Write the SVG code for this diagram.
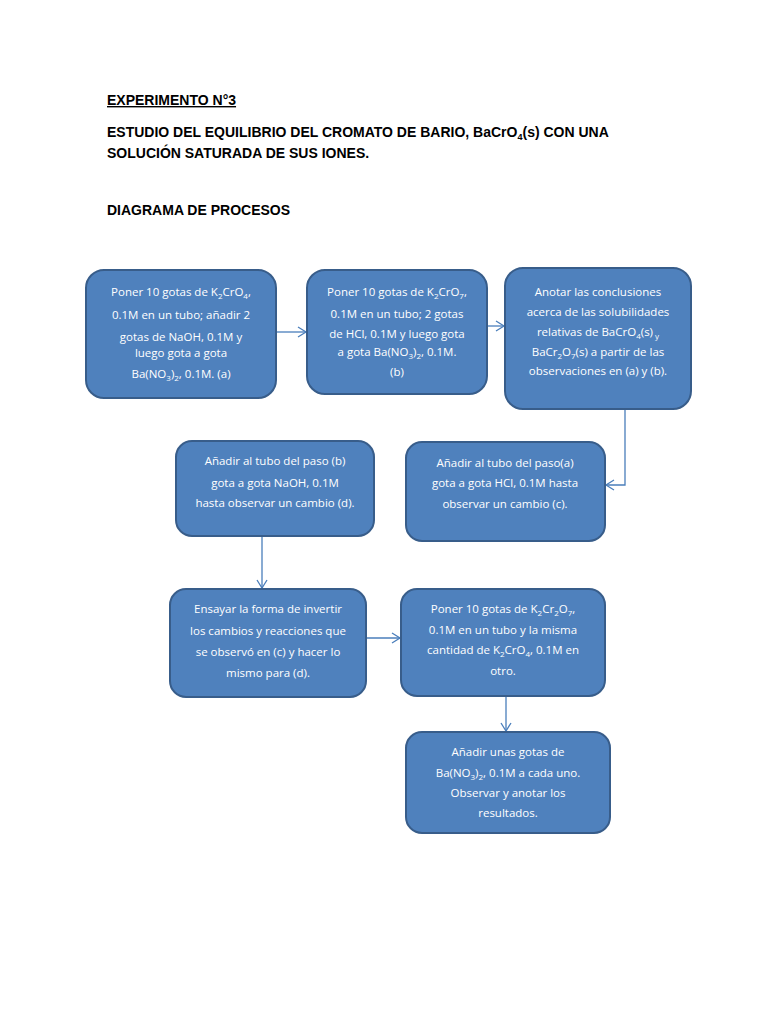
<svg xmlns="http://www.w3.org/2000/svg" width="768" height="1024" viewBox="0 0 768 1024">
<style>
.h{font-family:"Liberation Sans",Arial,sans-serif;font-weight:bold;font-size:14px;fill:#000}
.b{fill:#4f81bd;stroke:#385d8a;stroke-width:2}
.t{font-family:"Open Sans","Noto Sans",sans-serif;font-size:11.5px;fill:#fff;text-anchor:middle}
.c{fill:none;stroke:#4a7ebb;stroke-width:1.3}
</style>
<defs><marker id="a" markerWidth="12" markerHeight="12" refX="10" refY="6" orient="auto" markerUnits="userSpaceOnUse"><path d="M2,1 L10,6 L2,11" fill="none" stroke="#4a7ebb" stroke-width="1.3"/></marker></defs>
<rect width="768" height="1024" fill="#fff"/>
<text class="h" x="107" y="105" text-decoration="underline">EXPERIMENTO N°3</text>
<text class="h" x="107" y="137">ESTUDIO DEL EQUILIBRIO DEL CROMATO DE BARIO, BaCrO<tspan font-size="9" dy="3">4</tspan><tspan dy="-3">(s) CON UNA</tspan></text>
<text class="h" x="107" y="158">SOLUCIÓN SATURADA DE SUS IONES.</text>
<text class="h" x="107" y="215">DIAGRAMA DE PROCESOS</text>
<g id="connectors">
<line class="c" x1="276" y1="332" x2="306" y2="332" marker-end="url(#a)"/>
<line class="c" x1="487" y1="326" x2="504" y2="326" marker-end="url(#a)"/>
<polyline class="c" points="625,409 625,485 606,485" marker-end="url(#a)"/>
<line class="c" x1="262" y1="536" x2="262" y2="588" marker-end="url(#a)"/>
<line class="c" x1="366" y1="638" x2="400" y2="638" marker-end="url(#a)"/>
<line class="c" x1="506" y1="696" x2="506" y2="731" marker-end="url(#a)"/>
</g>
<g id="n1"><rect class="b" x="86" y="270" width="190" height="128" rx="18"/>
<text class="t" x="181" y="296">Poner 10 gotas de K<tspan font-size="8" dy="3">2</tspan><tspan dy="-3">CrO</tspan><tspan font-size="8" dy="3">4</tspan><tspan dy="-3">,</tspan></text>
<text class="t" x="181" y="319">0.1M en un tubo; añadir 2</text>
<text class="t" x="181" y="341">gotas de NaOH, 0.1M y</text>
<text class="t" x="181" y="357">luego gota a  gota</text>
<text class="t" x="181" y="378">Ba(NO<tspan font-size="8" dy="3">3</tspan><tspan dy="-3">)</tspan><tspan font-size="8" dy="3">2</tspan><tspan dy="-3">, 0.1M.  (a)</tspan></text></g>
<g id="n2"><rect class="b" x="307" y="270" width="180" height="124" rx="18"/>
<text class="t" x="397" y="296">Poner 10 gotas de K<tspan font-size="8" dy="3">2</tspan><tspan dy="-3">CrO</tspan><tspan font-size="8" dy="3">7</tspan><tspan dy="-3">,</tspan></text>
<text class="t" x="397" y="318">0.1M en un tubo; 2 gotas</text>
<text class="t" x="397" y="338">de HCl, 0.1M y luego gota</text>
<text class="t" x="397" y="356">a  gota Ba(NO<tspan font-size="8" dy="3">3</tspan><tspan dy="-3">)</tspan><tspan font-size="8" dy="3">2</tspan><tspan dy="-3">, 0.1M.</tspan></text>
<text class="t" x="397" y="376">(b)</text></g>
<g id="n3"><rect class="b" x="505" y="268" width="186" height="141" rx="18"/>
<text class="t" x="598" y="296">Anotar las conclusiones</text>
<text class="t" x="598" y="316">acerca de las solubilidades</text>
<text class="t" x="598" y="336">relativas de BaCrO<tspan font-size="8" dy="3">4</tspan><tspan dy="-3">(s)</tspan><tspan font-size="8" dy="3"> y</tspan></text>
<text class="t" x="598" y="356">BaCr<tspan font-size="8" dy="3">2</tspan><tspan dy="-3">O</tspan><tspan font-size="8" dy="3">7</tspan><tspan dy="-3">(s) a partir de las</tspan></text>
<text class="t" x="598" y="375">observaciones en (a) y (b).</text></g>
<g id="n4"><rect class="b" x="176" y="441" width="198" height="95" rx="16"/>
<text class="t" x="275" y="465">Añadir al tubo del paso (b)</text>
<text class="t" x="275" y="487">gota a gota NaOH, 0.1M</text>
<text class="t" x="275" y="507">hasta observar un cambio (d).</text></g>
<g id="n5"><rect class="b" x="406" y="442" width="199" height="99" rx="16"/>
<text class="t" x="505" y="467">Añadir al tubo del paso(a)</text>
<text class="t" x="505" y="487">gota a gota HCl, 0.1M hasta</text>
<text class="t" x="505" y="508">observar un cambio (c).</text></g>
<g id="n6"><rect class="b" x="170" y="589" width="196" height="108" rx="16"/>
<text class="t" x="268" y="613">Ensayar la forma de invertir</text>
<text class="t" x="268" y="635">los cambios y reacciones que</text>
<text class="t" x="268" y="656">se observó en (c) y hacer lo</text>
<text class="t" x="268" y="677">mismo para (d).</text></g>
<g id="n7"><rect class="b" x="401" y="589" width="204" height="107" rx="16"/>
<text class="t" x="503" y="613">Poner 10 gotas de K<tspan font-size="8" dy="3">2</tspan><tspan dy="-3">Cr</tspan><tspan font-size="8" dy="3">2</tspan><tspan dy="-3">O</tspan><tspan font-size="8" dy="3">7</tspan><tspan dy="-3">,</tspan></text>
<text class="t" x="503" y="634">0.1M en un tubo y la misma</text>
<text class="t" x="503" y="654">cantidad de K<tspan font-size="8" dy="3">2</tspan><tspan dy="-3">CrO</tspan><tspan font-size="8" dy="3">4</tspan><tspan dy="-3">, 0.1M en</tspan></text>
<text class="t" x="503" y="675">otro.</text></g>
<g id="n8"><rect class="b" x="406" y="732" width="204" height="101" rx="16"/>
<text class="t" x="508" y="756">Añadir unas gotas de</text>
<text class="t" x="508" y="777">Ba(NO<tspan font-size="8" dy="3">3</tspan><tspan dy="-3">)</tspan><tspan font-size="8" dy="3">2</tspan><tspan dy="-3">, 0.1M a cada uno.</tspan></text>
<text class="t" x="508" y="797">Observar y anotar los</text>
<text class="t" x="508" y="817">resultados.</text></g>
</svg>
